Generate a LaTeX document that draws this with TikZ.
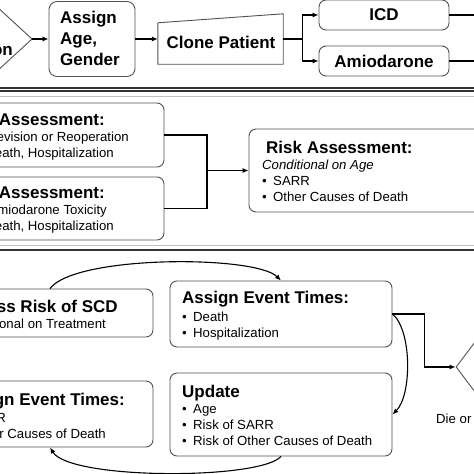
\documentclass[tikz,border=0pt]{standalone}
\usepackage{fontspec}
\setmainfont{Liberation Sans}
\usetikzlibrary{arrows.meta,shapes.geometric}

\newcommand{\itm}{\textbullet\hspace{6.4pt}}

\begin{document}
\begin{tikzpicture}[x=1pt, y=-1pt,
        box/.style={draw=black!68, line width=0.9pt, rounded corners=7pt, inner sep=0pt},
        ttl/.style={font=\fontsize{17}{20}\selectfont\bfseries, anchor=base west, inner sep=0pt},
        txt/.style={font=\fontsize{13.2}{16}\selectfont, anchor=base west, inner sep=0pt},
        link/.style={line width=1.1pt},
        arr/.style={link, -{Latex[length=6pt,width=5pt]}},
        sep/.style={line width=1.1pt, color=black!80}]
        \useasboundingbox (0,0) rectangle (474,474);
        \fill[white] (0,0) rectangle (474,474);
        \clip (0,0) rectangle (474,474);

        % patient set-up
        \draw[draw=black!68, line width=0.9pt] (-120,5) -- (-5,5) -- (32,39) -- (-5,73) -- (-120,73) -- cycle;
        \coordinate (pop) at (32,39);
        \node[ttl, anchor=base east] at (13,55) {Population};

        \node[box, rounded corners=8pt, minimum width=86, minimum height=75] (gender) at (92,39) {};
        \node[ttl] at (60,23.5) {Assign};
        \node[ttl] at (60,44.5) {Age,};
        \node[ttl] at (60,65) {Gender};

        \node[inner sep=0pt, minimum width=125, minimum height=50] (clone) at (220.5,39) {};
        \draw[draw=black!68, line width=0.9pt] (clone.south west) -- (clone.south east) -- (clone.north east) -- ([yshift=-9pt]clone.north west) -- cycle;
        \node[ttl] at (166.5,48) {Clone Patient};

        \node[box, font=\fontsize{17}{20}\selectfont\bfseries, minimum width=130, minimum height=30] (icd) at (384,15) {ICD};
        \node[box, font=\fontsize{17}{20}\selectfont\bfseries, minimum width=130, minimum height=30] (amio) at (384,61) {Amiodarone};
        \coordinate (icdout) at (490,15);
        \coordinate (amioout) at (490,61);

        \draw[arr] (pop) -- (gender.west);
        \draw[arr] (gender.east) -- (clone.west);
        \draw[arr] (clone.east) -- ++(19,0) |- (icd.west);
        \draw[arr] (clone.east) -- ++(19,0) |- (amio.west);
        \draw[link] (icd.east) -- (icdout);
        \draw[link] (amio.east) -- (amioout);

        % separators
        \draw[sep] (0,88) -- (474,88);
        \draw[sep] (0,91) -- (474,91);
        \draw[sep, line width=0.8pt, color=black!25] (0,96.5) -- (474,96.5);

        % risk assessment
        \node[box, minimum width=224, minimum height=64] (riskA) at (52,135) {};
        \node[ttl, anchor=base east] at (105,125) {Risk Assessment:};
        \node[txt, anchor=base east] at (129,141) {\itm Revision or Reoperation};
        \node[txt, anchor=base east] at (114,157) {\itm Death, Hospitalization};

        \node[box, minimum width=224, minimum height=63] (riskB) at (52,208.5) {};
        \node[ttl, anchor=base east] at (105,198) {Risk Assessment:};
        \node[txt, anchor=base east] at (107,214) {\itm Amiodarone Toxicity};
        \node[txt, anchor=base east] at (114,230) {\itm Death, Hospitalization};

        \node[box, minimum width=260, minimum height=83] (riskC) at (379,170.5) {};
        \node[ttl] at (266,153) {Risk Assessment:};
        \node[txt, font=\fontsize{13.2}{16}\selectfont\itshape] at (262,169) {Conditional on Age};
        \node[txt] at (262,185) {\itm SARR};
        \node[txt] at (262,201) {\itm Other Causes of Death};

        \coordinate (join) at (207,170.5);
        \draw[link] (riskA.east) -| (join) |- (riskB.east);
        \draw[arr] (join) -- (riskC.west);

        \draw[sep, line width=0.8pt, color=black!25] (0,245.5) -- (474,245.5);
        \draw[sep, line width=1.4pt] (0,250) -- (474,250);

        % event loop
        \node[box, minimum width=206, minimum height=48] (scd) at (50,313) {};
        \node[ttl, anchor=base east] at (118,312) {Assess Risk of SCD};
        \node[txt, anchor=base east] at (106,328) {Conditional on Treatment};

        \node[box, minimum width=206, minimum height=66] (assignL) at (50,414) {};
        \node[ttl, anchor=base east] at (125,405) {Assign Event Times:};
        \node[txt, anchor=base east] at (6,422) {\itm SARR};
        \node[txt, anchor=base east] at (106,438) {\itm Other Causes of Death};

        \node[box, minimum width=222, minimum height=66] (assignM) at (281,314) {};
        \node[ttl] at (182,303) {Assign Event Times:};
        \node[txt] at (182,321) {\itm Death};
        \node[txt] at (182,337) {\itm Hospitalization};

        \node[box, minimum width=222, minimum height=83] (upd) at (281,414.5) {};
        \node[ttl] at (182,397) {Update};
        \node[txt] at (182,413) {\itm Age};
        \node[txt] at (182,429) {\itm Risk of SARR};
        \node[txt] at (182,445) {\itm Risk of Other Causes of Death};

        \node[draw=black!68, line width=0.9pt, shape=diamond, inner sep=0pt, minimum width=80, minimum height=106] (die) at (496,367) {};
        \node[txt] at (436,423) {Die or};

        \draw[arr] (scd.north) .. controls (75,255) and (255,255) .. (assignM.north);
        \draw[arr] (assignM.east) .. controls (412,330) and (412,395) .. (upd.east);
        \draw[arr] (assignM.east) -- ++(32,0) |- (die.west);
        \draw[arr] (upd.south) .. controls (260,480) and (70,480) .. (assignL.south);
    \end{tikzpicture}
\end{document}
